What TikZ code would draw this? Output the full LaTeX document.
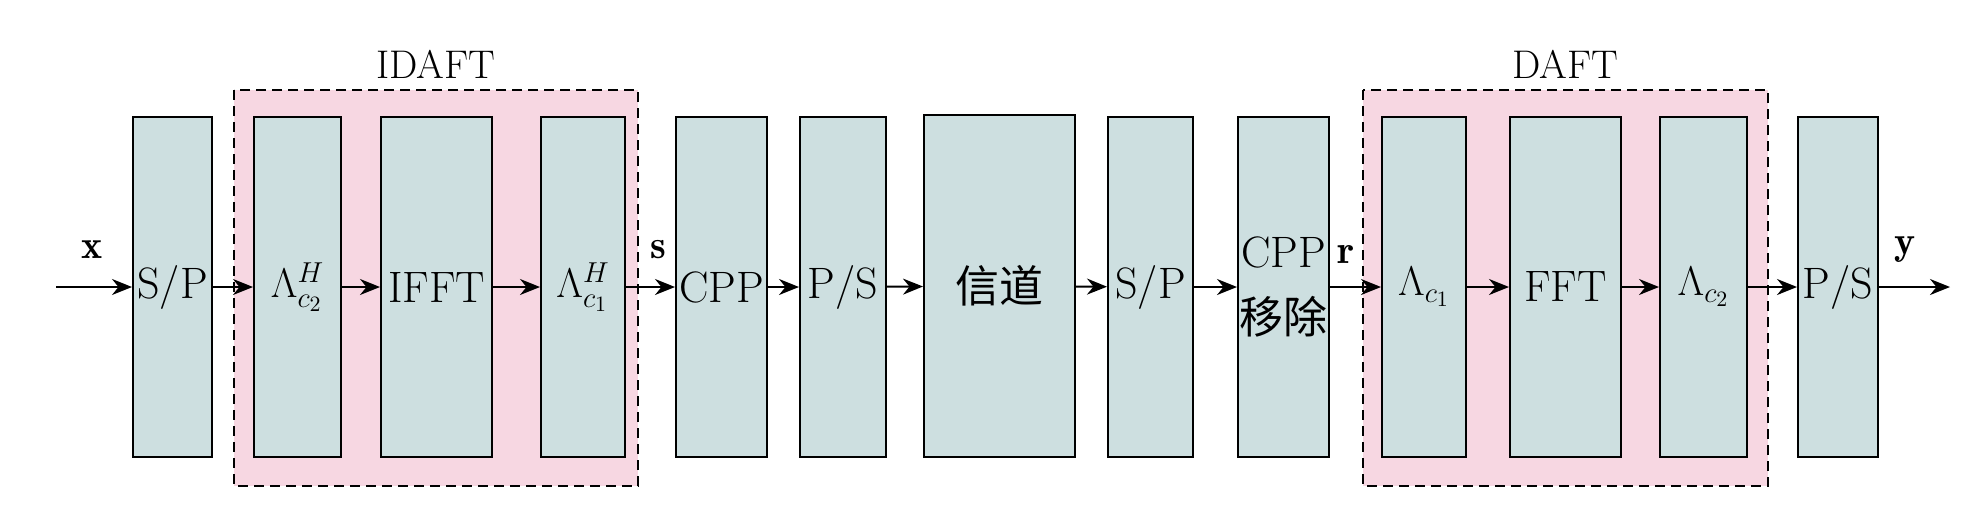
\documentclass[tikz,border=0pt]{standalone}
\usepackage{fontspec}
\newfontfamily\cjk{Noto Sans CJK SC}
\usetikzlibrary{arrows.meta}
\definecolor{boxfill}{HTML}{CDDFE0}
\definecolor{pinkfill}{HTML}{F7D7E2}
\tikzset{
  blk/.style={draw=black, fill=boxfill, line width=1pt, minimum height=170pt, inner sep=0pt, font=\fontsize{22}{35}\selectfont, align=center},
  grp/.style={draw=black, fill=pinkfill, line width=1pt, dash pattern=on 5pt off 3pt},
  arr/.style={-{Stealth[length=10pt,width=8pt]}, line width=1pt},
  lbl/.style={font=\fontsize{20}{22}\selectfont}
}
\begin{document}
\begin{tikzpicture}[x=0.5pt,y=-0.5pt]
\useasboundingbox (0,0) rectangle (1986,515);
\draw[grp] (234,90) rectangle (638,486);
\draw[grp] (1363,90) rectangle (1768,486);
\node[lbl] (tidaft) at (436,64) {IDAFT};
\node[lbl] (tdaft) at (1565,64) {DAFT};
\node[blk, minimum width=39.5pt] (sp1) at (172.5,287) {S/P};
\node[blk, minimum width=43.5pt] (l2h) at (297.5,287) {$\Lambda_{c_2}^{H}$};
\node[blk, minimum width=55.5pt] (ifft) at (436.5,287) {IFFT};
\node[blk, minimum width=42pt] (l1h) at (583,287) {$\Lambda_{c_1}^{H}$};
\node[blk, minimum width=45.5pt] (cpp) at (721.5,287) {CPP};
\node[blk, minimum width=43pt] (ps1) at (843,287) {P/S};
\node[blk, minimum width=75.5pt, minimum height=171pt] (ch) at (999.5,286) {\cjk 信道};
\node[blk, minimum width=42.5pt] (sp2) at (1150.5,287) {S/P};
\node[blk, minimum width=45.5pt] (cpprm) at (1283.5,287) {CPP\\[-2pt]{\cjk 移除}};
\node[blk, minimum width=42pt] (l1) at (1424,287) {$\Lambda_{c_1}$};
\node[blk, minimum width=55.5pt] (fft) at (1565.5,287) {FFT};
\node[blk, minimum width=43.5pt] (l2) at (1703.5,287) {$\Lambda_{c_2}$};
\node[blk, minimum width=40pt] (ps2) at (1838,287) {P/S};
\coordinate (in) at (56,287);
\coordinate (out) at (1950,287);
\draw[arr] (in) -- (sp1);
\draw[arr] (sp1) -- (l2h);
\draw[arr] (l2h) -- (ifft);
\draw[arr] (ifft) -- (l1h);
\draw[arr] (l1h) -- (cpp);
\draw[arr] (cpp) -- (ps1);
\draw[arr] (ps1) -- (ch);
\draw[arr] (ch) -- (sp2);
\draw[arr] (sp2) -- (cpprm);
\draw[arr] (cpprm) -- (l1);
\draw[arr] (l1) -- (fft);
\draw[arr] (fft) -- (l2);
\draw[arr] (l2) -- (ps2);
\draw[arr] (ps2) -- (out);
\node[lbl] (lx) at (92,250) {$\mathbf{x}$};
\node[lbl] (ls) at (658,250) {$\mathbf{s}$};
\node[lbl] (lr) at (1346,254) {$\mathbf{r}$};
\node[lbl] (ly) at (1905,250) {$\mathbf{y}$};
\end{tikzpicture}
\end{document}
